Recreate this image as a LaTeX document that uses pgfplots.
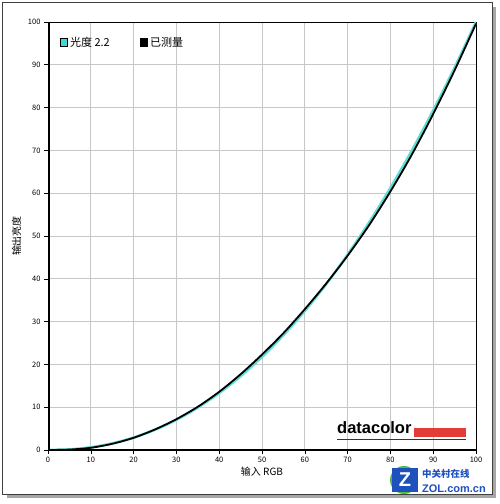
\documentclass[border=0pt]{standalone}
\usepackage{pgfplots}
\pgfplotsset{compat=1.18}
\usepackage{fontspec}
\setmainfont{Noto Sans CJK SC}
\newfontfamily\dcfont{Liberation Sans}
\definecolor{gcyan}{RGB}{95,220,215}
\definecolor{lcyan}{RGB}{60,215,215}
\definecolor{dcred}{RGB}{225,60,55}
\definecolor{zolblue}{RGB}{30,80,190}
\definecolor{zolgreen}{RGB}{80,190,60}
\pgfplotstableread{
x y
0 0
5 0.14
10 0.63
15 1.54
20 2.90
25 4.74
30 7.07
35 9.93
40 13.32
45 17.26
50 21.76
55 26.84
60 32.50
65 38.76
70 45.63
75 53.10
80 61.21
85 69.94
90 79.31
95 89.33
100 100
}\gammadata
\pgfplotstableread{
x y
0 0
5 0.10
10 0.52
15 1.45
20 2.85
25 4.80
30 7.20
35 10.10
40 13.60
45 17.70
50 22.30
55 27.30
60 32.90
65 38.90
70 45.40
75 52.50
80 60.40
85 69.00
90 78.50
95 88.70
100 99.6
}\measdata
\begin{document}
\begin{tikzpicture}[x=1pt,y=1pt]
\useasboundingbox (-48,-54) rectangle (452,450);
\fill[black!35] (-41,-48) rectangle (448,443);
\filldraw[fill=white, draw=black!75, line width=1pt] (-45,-44) rectangle (444,447);
\begin{axis}[
  at={(0pt,0pt)}, anchor=south west,
  scale only axis, width=428pt, height=428pt,
  xmin=0, xmax=100, ymin=0, ymax=100,
  xtick={0,10,...,100}, ytick={0,10,...,100},
  grid=major, grid style={black!22, line width=0.8pt},
  axis line style={black, line width=0.8pt},
  tick align=outside, major tick length=4pt,
  tick style={black, line width=0.6pt},
  xtick pos=bottom, ytick pos=left,
  /pgf/number format/assume math mode=true,
  ticklabel style={font=\fontsize{7.5}{9}\selectfont},
  xlabel={输入 RGB}, ylabel={输出亮度},
  label style={font=\fontsize{10}{12}\selectfont},
  xlabel style={yshift=3pt},
  ylabel style={yshift=0pt},
  legend style={at={(0.02,0.975)}, anchor=north west, draw=none, fill=none,
    font=\fontsize{11}{12}\selectfont, legend columns=2,
    /tikz/every even column/.append style={column sep=28pt}},
]
\addplot[gcyan, line width=2.6pt, smooth,
  legend image code/.code={\filldraw[fill=lcyan, draw=black, line width=0.7pt] (0pt,-3.8pt) rectangle (7.6pt,3.8pt);}]
  table[x=x,y=y]{\gammadata};
\addlegendentry{光度 2.2}
\addplot[black, line width=1.8pt, smooth,
  legend image code/.code={\filldraw[fill=black, draw=black, line width=0.7pt] (0pt,-3.8pt) rectangle (7.6pt,3.8pt);}]
  table[x=x,y=y]{\measdata};
\addlegendentry{已测量}
\draw[line width=3pt, black] (rel axis cs:0,1) -- (rel axis cs:0,0) -- (rel axis cs:1,0);
\end{axis}
% datacolor logo
\node[anchor=base west, inner sep=0pt, font=\dcfont\bfseries\fontsize{16.5}{17}\selectfont] at (289,17) {datacolor};
\fill[dcred] (366,13) rectangle (418,22);
\draw[black!80, line width=0.8pt] (289,11) -- (418,11);
% ZOL watermark
\fill[zolgreen] (356,-30) circle (14);
\fill[zolblue] (344,-42) rectangle (370,-18);
\node[text=white, font=\dcfont\bfseries\fontsize{20}{20}\selectfont, inner sep=0pt] at (357,-30) {Z};
\node[anchor=base west, inner sep=0pt, text=zolblue, font=\bfseries\fontsize{9.5}{10}\selectfont] at (374,-27) {中关村在线};
\node[anchor=base west, inner sep=0pt, text=zolblue, font=\dcfont\bfseries\fontsize{11}{11}\selectfont] at (374,-42) {ZOL.com.cn};
\end{tikzpicture}
\end{document}
